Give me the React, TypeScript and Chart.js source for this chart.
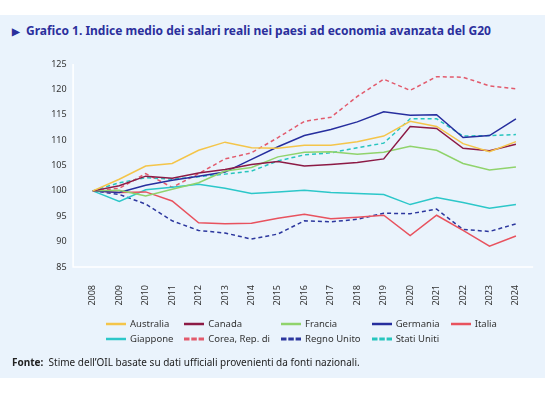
import React, { useEffect, useRef } from 'react';
import { Chart, registerables } from 'chart.js';
Chart.register(...registerables);

const years = ['2008','2009','2010','2011','2012','2013','2014','2015','2016','2017','2018','2019','2020','2021','2022','2023','2024'];
const yTicks = [85, 90, 95, 100, 105, 110, 115, 120, 125];

const australia = [100, 102.3, 104.9, 105.4, 108, 109.6, 108.5, 108.4, 109, 109, 109.7, 110.8, 113.7, 112.7, 109.3, 107.7, 109.7];
const canada = [100, 101, 102.9, 102.5, 103.5, 104.2, 105.2, 105.8, 104.9, 105.2, 105.6, 106.3, 112.7, 112.3, 108.4, 107.9, 109.2];
const francia = [100, 100.1, 99, 100.3, 101.6, 103.9, 104.6, 106.7, 107.6, 107.7, 107.2, 107.6, 108.8, 108, 105.4, 104.1, 104.7];
const germania = [100, 99.7, 101.1, 102.1, 102.9, 103.7, 106.2, 108.7, 110.9, 112.1, 113.6, 115.6, 114.9, 115, 110.5, 110.9, 114.2];
const italia = [100, 99.7, 99.8, 98, 93.7, 93.5, 93.6, 94.6, 95.4, 94.5, 94.8, 95.2, 91.2, 95.2, 92.2, 89.1, 91.1];
const giappone = [100, 97.9, 100.2, 100.7, 101.3, 100.5, 99.5, 99.8, 100.1, 99.7, 99.5, 99.3, 97.3, 98.7, 97.7, 96.6, 97.3];
const corea = [100, 100.5, 103.4, 100.7, 103.4, 106.3, 107.5, 110.5, 113.7, 114.5, 118.6, 122, 119.8, 122.5, 122.4, 120.7, 120.1];
const regnoUnito = [100, 99.3, 97.4, 94.1, 92.2, 91.7, 90.5, 91.5, 94.1, 93.9, 94.4, 95.6, 95.5, 96.4, 92.4, 92, 93.5];
const statiUniti = [100, 101.6, 102.6, 102.3, 102.8, 103.3, 103.9, 105.9, 107.1, 107.5, 108.5, 109.4, 114.2, 114.2, 110.8, 110.9, 111.1];

const seriesLabels = ['Australia', 'Canada', 'Francia', 'Germania', 'Italia', 'Giappone', 'Corea, Rep. di', 'Regno Unito', 'Stati Uniti'];
const seriesData = [australia, canada, francia, germania, italia, giappone, corea, regnoUnito, statiUniti];
const seriesColors = ['#f4c54a', '#8c1a45', '#90d36c', '#262e9e', '#e8525e', '#2cc7c9', '#e25a6c', '#2c379e', '#27c5be'];
const seriesDashed = [false, false, false, false, false, false, true, true, true];

const FONT = '"Noto Sans", "Open Sans", sans-serif';

export default function App() {
  const ref = useRef<HTMLCanvasElement>(null);
  useEffect(() => {
    const axisLines = {
      id: 'axisLines',
      beforeDatasetsDraw(chart: any) {
        const { ctx, chartArea } = chart;
        const x0 = chartArea.left - 6.5;
        ctx.save();
        ctx.strokeStyle = '#ffffff';
        ctx.lineWidth = 1.5;
        ctx.beginPath();
        ctx.moveTo(x0, chartArea.top);
        ctx.lineTo(x0, chartArea.bottom);
        ctx.lineTo(chartArea.right + 4, chartArea.bottom);
        ctx.stroke();
        ctx.restore();
      },
    };
    const chart = new Chart(ref.current as HTMLCanvasElement, {
      type: 'line',
      data: {
        labels: years,
        datasets: seriesLabels.map((label, i) => ({
          label,
          data: seriesData[i],
          borderColor: seriesColors[i],
          backgroundColor: seriesColors[i],
          borderWidth: 1.5,
          borderDash: seriesDashed[i] ? [4, 3] : [],
          pointRadius: 0,
          tension: 0,
          fill: false,
        })),
      },
      options: {
        responsive: false,
        animation: false,
        layout: { padding: { top: 64, left: 0, right: 9, bottom: 84 } },
        plugins: { legend: { display: false }, tooltip: { enabled: false }, title: { display: false } },
        scales: {
          x: {
            offset: true,
            grid: { display: false, drawTicks: false },
            border: { display: false },
            ticks: {
              minRotation: 90,
              maxRotation: 90,
              padding: 18,
              color: '#333333',
              font: { family: FONT, size: 9 },
              autoSkip: false,
            },
            afterFit: (s: any) => { s.height = 45; },
          },
          y: {
            min: 85,
            max: 125,
            afterBuildTicks: (s: any) => { s.ticks = yTicks.map((v) => ({ value: v })); },
            grid: { display: false, drawTicks: false },
            border: { display: false },
            ticks: {
              padding: 13,
              color: '#333333',
              font: { family: FONT, size: 9 },
            },
            afterFit: (s: any) => { s.width = 79.6; },
          },
        },
      },
      plugins: [axisLines],
    });
    return () => chart.destroy();
  }, []);

  const legendItem = (i: number) => (
    <div key={i} style={{ display: 'flex', alignItems: 'center', height: 15, whiteSpace: 'nowrap' }}>
      <svg width={20} height={6} style={{ marginRight: 4 }}>
        <line x1={0} y1={3} x2={20} y2={3} stroke={seriesColors[i]} strokeWidth={seriesDashed[i] ? 3 : 2.5}
          strokeDasharray={seriesDashed[i] ? '5.5 1.8' : undefined} />
      </svg>
      <span>{seriesLabels[i]}</span>
    </div>
  );

  return (
    <div style={{ position: 'absolute', left: 0, top: 0, width: 545, height: 396, background: '#ffffff', fontFamily: FONT, overflow: 'hidden' }}>
      <div style={{ position: 'absolute', left: 0, top: 15, width: 545, height: 363, background: '#eaf3fc' }} />
      <div style={{ position: 'absolute', left: 12, top: 22, fontSize: 12, fontWeight: 700, color: '#2b2f9c', whiteSpace: 'nowrap' }}>
        <span style={{ fontSize: 10, marginRight: 6 }}>▶</span>Grafico 1. Indice medio dei salari reali nei paesi ad economia avanzata del G20
      </div>
      <canvas ref={ref} width={545} height={396} style={{ position: 'absolute', left: 0, top: 0 }} />
      <div style={{ position: 'absolute', left: 106, top: 316, display: 'grid', gridTemplateColumns: 'repeat(5, auto)', columnGap: 11, fontSize: 9.5, color: '#333333' }}>
        {seriesLabels.map((_, i) => legendItem(i))}
      </div>
      <div style={{ position: 'absolute', left: 12, top: 355, fontSize: 10, color: '#222222', whiteSpace: 'nowrap' }}>
        <b>Fonte:</b>&nbsp;&nbsp;Stime dell’OIL basate su dati ufficiali provenienti da fonti nazionali.
      </div>
    </div>
  );
}
